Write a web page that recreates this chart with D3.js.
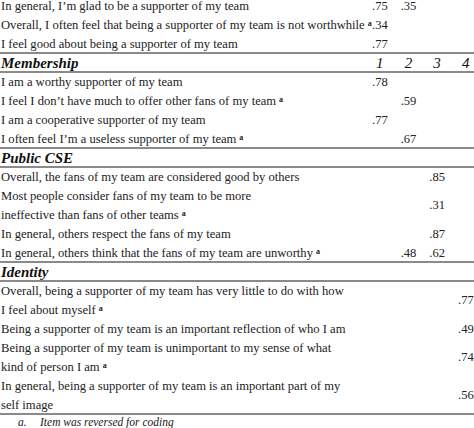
<!DOCTYPE html>
<html><head><meta charset="utf-8">
<script src="https://cdn.jsdelivr.net/npm/d3@7"></script>
<style>body{margin:0;background:#fff;overflow:hidden} svg text{font-family:"Liberation Serif","DejaVu Serif",serif}</style>
</head><body><div id="tbl"></div>
<script>
// sections of the loading table; values are [column, loading]
var sectionNames = [null, "Membership", "Public CSE", "Identity"];
var sectionItems = [
  [["In general, I\u2019m glad to be a supporter of my team"], ["Overall, I often feel that being a supporter of my team is not worthwhile", "a"], ["I feel good about being a supporter of my team"]],
  [["I am a worthy supporter of my team"], ["I feel I don\u2019t have much to offer other fans of my team", "a"], ["I am a cooperative supporter of my team"], ["I often feel I\u2019m a useless supporter of my team", "a"]],
  [["Overall, the fans of my team are considered good by others"], ["Most people consider fans of my team to be more|ineffective than fans of other teams", "a"], ["In general, others respect the fans of my team"], ["In general, others think that the fans of my team are unworthy", "a"]],
  [["Overall, being a supporter of my team has very little to do with how|I feel about myself", "a"], ["Being a supporter of my team is an important reflection of who I am"], ["Being a supporter of my team is unimportant to my sense of what|kind of person I am", "a"], ["In general, being a supporter of my team is an important part of my|self image"]]
];
var sectionValues = [
  [[[1, ".75"], [2, ".35"]], [[1, ".34"]], [[1, ".77"]]],
  [[[1, ".78"]], [[2, ".59"]], [[1, ".77"]], [[2, ".67"]]],
  [[[3, ".85"]], [[3, ".31"]], [[3, ".87"]], [[2, ".48"], [3, ".62"]]],
  [[[4, ".77"]], [[4, ".49"]], [[4, ".74"]], [[4, ".56"]]]
];
var columnLabels = ["1", "2", "3", "4"];
var footnote = "Item was reversed for coding";

var W = 474, H = 428, rowH = 19;
var svg = d3.select("#tbl").append("svg").attr("width", W).attr("height", H);

var colX = d3.scalePoint().domain([1, 2, 3, 4]).range([372, 458]);
var ink = "#222";

function rule(y) {
  svg.append("line").attr("x1", 0).attr("x2", W).attr("y1", y).attr("y2", y)
    .attr("stroke", "#8a8a8a").attr("stroke-width", 2.2);
}

var y = -4;
sectionNames.forEach(function(name, s) {
  if (name) {
    rule(y);
    var hdr = svg.append("g").attr("transform", "translate(0," + (y + rowH / 2) + ")");
    hdr.append("text").attr("x", 1).attr("dy", "0.35em").text(name)
      .attr("font-size", 15).attr("font-weight", "bold").attr("font-style", "italic").attr("fill", "#111");
    if (s === 1) {
      hdr.selectAll("text.col").data(columnLabels).enter().append("text")
        .attr("class", "col").attr("x", function(d, i) { return colX(i + 1) + 4; })
        .attr("dy", "0.35em").attr("font-size", 15).attr("font-style", "italic").attr("fill", "#111")
        .text(function(d) { return d; });
    }
    y += rowH;
    rule(y);
  }
  sectionItems[s].forEach(function(item, r) {
    var lines = item[0].split("|");
    lines.forEach(function(ln, k) {
      var t = svg.append("text").attr("x", 1).attr("y", y + rowH * k + rowH / 2).attr("dy", "0.35em")
        .attr("font-size", 12.6).attr("fill", ink).text(ln);
      if (item[1] && k === lines.length - 1)
        t.append("tspan").attr("dx", 3).attr("dy", "-0.4em").attr("font-size", 8).attr("font-weight", "bold").text(item[1]);
    });
    var cy = y + rowH * lines.length / 2;
    svg.selectAll(null).data(sectionValues[s][r]).enter().append("text")
      .attr("x", function(d) { return colX(d[0]); }).attr("y", cy).attr("dy", "0.35em")
      .attr("font-size", 12.6).attr("fill", ink).text(function(d) { return d[1]; });
    y += rowH * lines.length;
  });
});
rule(y);
svg.append("text").attr("x", 18).attr("y", y + 8).attr("dy", "0.35em")
  .attr("font-size", 11.5).attr("font-style", "italic").attr("fill", ink).text("a.");
svg.append("text").attr("x", 40).attr("y", y + 8).attr("dy", "0.35em")
  .attr("font-size", 11.5).attr("font-style", "italic").attr("fill", ink).text(footnote);
</script></body></html>
